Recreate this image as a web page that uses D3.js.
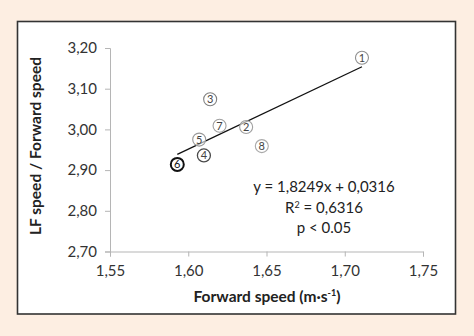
<!DOCTYPE html>
<html>
<head>
<meta charset="utf-8">
<script src="https://cdn.jsdelivr.net/npm/d3@7/dist/d3.min.js"></script>
<style>
  html, body { margin: 0; padding: 0; background: #fdeee2; }
  svg { display: block; }
</style>
</head>
<body>
<svg id="chart" width="474" height="336"></svg>
<script>
// Subjects (circled numbers), forward speed and LF speed / forward speed ratio
const subjects = [1, 2, 3, 4, 5, 6, 7, 8];
const forwardSpeed = [1.711, 1.637, 1.614, 1.610, 1.607, 1.593, 1.620, 1.647];
const speedRatio = [3.176, 3.006, 3.074, 2.936, 2.975, 2.914, 3.009, 2.959];
// Outline shade of each marker
const markerStroke = ["#8f8f8f", "#a0a0a0", "#808080", "#4a4a4a", "#999999", "#111111", "#a0a0a0", "#aaaaaa"];
const markerWidth = [1.1, 1.1, 1.1, 1.3, 1.1, 2, 1.1, 1.1];

const xTicks = [1.55, 1.60, 1.65, 1.70, 1.75];
const yTicks = [2.70, 2.80, 2.90, 3.00, 3.10, 3.20];
const slope = 1.8249, intercept = 0.0316;
const statLines = ["y = 1,8249x + 0,0316", "R2", "p < 0.05"];

const svg = d3.select("#chart");
const font = "Lato, 'Open Sans', sans-serif";

// Outer panel
svg.append("rect")
  .attr("x", 17.5).attr("y", 21.5).attr("width", 438).attr("height", 292.5)
  .attr("fill", "#ffffff").attr("stroke", "#333333").attr("stroke-width", 1.6);

const x = d3.scaleLinear().domain([1.55, 1.75]).range([110, 423]);
const y = d3.scaleLinear().domain([2.70, 3.20]).range([251.5, 48]);
const comma = d => d.toFixed(2).replace(".", ",");

const xAxis = svg.append("g").attr("transform", `translate(0,${y(2.70)})`)
  .call(d3.axisBottom(x).tickValues(xTicks).tickFormat(comma).tickSize(5).tickPadding(6));
const yAxis = svg.append("g").attr("transform", `translate(${x(1.55)},0)`)
  .call(d3.axisLeft(y).tickValues(yTicks).tickFormat(comma).tickSize(5).tickPadding(8));

[xAxis, yAxis].forEach(g => {
  g.selectAll("path, line").attr("stroke", "#b5b5b5").attr("stroke-width", 1);
  g.selectAll("text").attr("fill", "#333333").style("font-family", font).style("font-size", "15px");
});
xAxis.selectAll("text").attr("dy", "0.9em");

// Regression line across the data range
const xr = d3.extent(forwardSpeed);
svg.append("line")
  .attr("x1", x(xr[0])).attr("y1", y(slope * xr[0] + intercept))
  .attr("x2", x(xr[1])).attr("y2", y(slope * xr[1] + intercept))
  .attr("stroke", "#111111").attr("stroke-width", 1.3);

// Circled subject numbers
const pts = svg.append("g").selectAll("g").data(subjects).join("g")
  .attr("transform", (d, i) => `translate(${x(forwardSpeed[i])},${y(speedRatio[i])})`);
pts.append("circle").attr("r", 6.5)
  .attr("fill", "#ffffff").attr("fill-opacity", 0.6)
  .attr("stroke", (d, i) => markerStroke[i]).attr("stroke-width", (d, i) => markerWidth[i]);
pts.append("text").text(d => d)
  .attr("text-anchor", "middle").attr("dy", "0.36em")
  .attr("fill", (d, i) => i === 5 ? "#111" : "#444")
  .style("font-family", font).style("font-size", "11px");

// Regression statistics
const st = svg.append("g").style("font-family", font).style("font-size", "15px").attr("fill", "#222");
st.append("text").attr("x", 324).attr("y", 192).attr("text-anchor", "middle").text(statLines[0]);
const r2 = st.append("text").attr("x", 324).attr("y", 212.5).attr("text-anchor", "middle");
r2.append("tspan").text("R");
r2.append("tspan").attr("dy", -5).style("font-size", "9px").text("2");
r2.append("tspan").attr("dy", 5).text(" = 0,6316");
st.append("text").attr("x", 324).attr("y", 233).attr("text-anchor", "middle").text(statLines[2]);

// Axis titles
const xt = svg.append("text").attr("x", 267).attr("y", 302).attr("text-anchor", "middle")
  .style("font-family", font).style("font-size", "15.5px").style("font-weight", "bold").attr("fill", "#222");
xt.append("tspan").text("Forward speed (m·s");
xt.append("tspan").attr("dy", -6).style("font-size", "9px").text("-1");
xt.append("tspan").attr("dy", 6).text(")");

svg.append("text").attr("transform", "translate(41,146) rotate(-90)").attr("text-anchor", "middle")
  .style("font-family", font).style("font-size", "15.5px").style("font-weight", "bold").attr("fill", "#222")
  .text("LF speed / Forward speed");
</script>
</body>
</html>
